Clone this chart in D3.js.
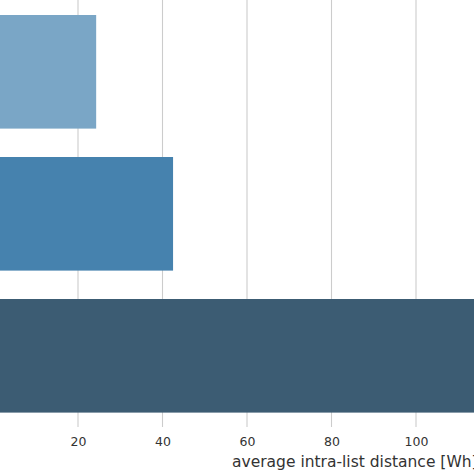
<!DOCTYPE html>
<html>
<head>
<meta charset="utf-8">
<script src="https://cdn.jsdelivr.net/npm/d3@7"></script>
<style>
    body { margin: 0; background: #fff; }
    svg { display: block; font-family: "DejaVu Sans", sans-serif; }
</style>
</head>
<body>
<div class="chart"></div>
<script>
'use strict';

(function () {

    // data
    var categories = ['A', 'B', 'C'];
    var values = [24.3, 42.5, 125];
    var barColors = ['#7aa6c6', '#4682ae', '#3c5c73'];
    var tickValues = [20, 40, 60, 80, 100];
    var xLabel = 'average intra-list distance [Wh]';

    var width = 474;
    var height = 474;

    var svg = d3.select('.chart')
        .append('svg')
        .attr('width', width)
        .attr('height', height);

    // axes box sits partly off the left and right of the window
    var x = d3.scaleLinear()
        .domain([0, 120])
        .range([-6.5, 500.5]);

    var y = d3.scaleBand()
        .domain(categories)
        .range([0.8, 426.8])
        .paddingInner(0.2)
        .paddingOuter(0.1);

    // grid
    svg.append('g')
        .selectAll('line')
        .data(tickValues)
        .enter()
        .append('line')
        .attr('x1', function (d) { return x(d); })
        .attr('x2', function (d) { return x(d); })
        .attr('y1', 0)
        .attr('y2', 427)
        .attr('stroke', '#cccccc')
        .attr('stroke-width', 1.1);

    // bars
    svg.append('g')
        .selectAll('rect')
        .data(values)
        .enter()
        .append('rect')
        .attr('x', x(0))
        .attr('y', function (d, i) { return y(categories[i]); })
        .attr('width', function (d) { return x(d) - x(0); })
        .attr('height', y.bandwidth())
        .attr('fill', function (d, i) { return barColors[i]; });

    // x axis, no tick marks, just labels
    var xAxis = d3.axisBottom(x)
        .tickValues(tickValues)
        .tickSize(0)
        .tickPadding(10.5);

    var axisG = svg.append('g')
        .attr('transform', 'translate(0,427)')
        .call(xAxis);

    axisG.select('.domain').remove();
    axisG.selectAll('text')
        .attr('fill', '#333333')
        .style('font-size', '12.5px')
        .style('font-family', '"DejaVu Sans", sans-serif');

    // label runs off the right edge, as in the source picture
    svg.append('text')
        .attr('x', 232)
        .attr('y', 467)
        .attr('fill', '#333333')
        .style('font-size', '15.5px')
        .text(xLabel);

})();
</script>
</body>
</html>
